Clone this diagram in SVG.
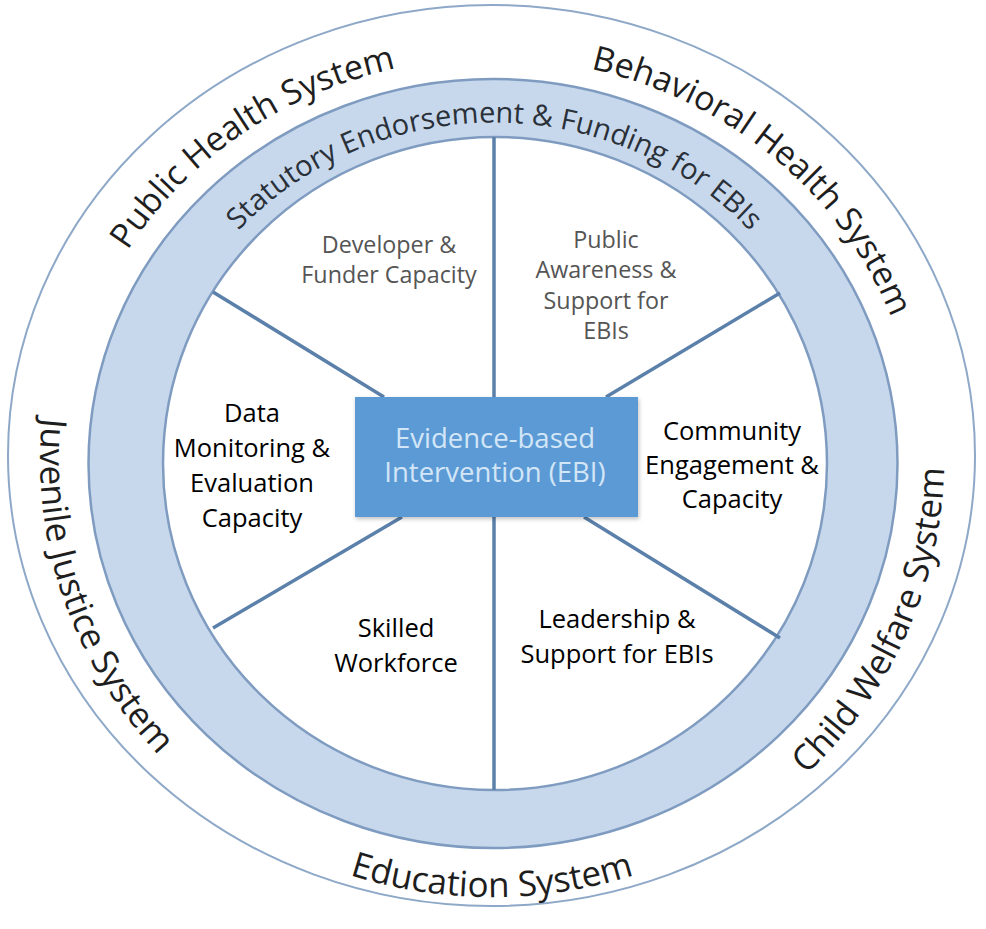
<svg xmlns="http://www.w3.org/2000/svg" xmlns:xlink="http://www.w3.org/1999/xlink" width="986" height="929" viewBox="0 0 986 929">
<style>
.ring{fill:none;stroke:#8ea8c8;stroke-width:2}
.band{fill:#c7d8ed;stroke:#7f9cc0;stroke-width:2.5}
.hole{fill:#ffffff;stroke:#7f9cc0;stroke-width:2.5}
.spoke{stroke:#5b80aa;stroke-width:3.5;fill:none}
.sys{font-family:"Open Sans","Liberation Sans",sans-serif;font-size:34px;fill:#1e1e1e}
.sysb{font-family:"Open Sans","Liberation Sans",sans-serif;font-size:35px;fill:#1e1e1e}
.stat{font-family:"Open Sans","Liberation Sans",sans-serif;font-size:29px;fill:#2a3038}
.lbl{font-family:"Open Sans","Liberation Sans",sans-serif;font-size:25.5px;fill:#000;text-anchor:middle}
.gry{font-family:"Open Sans","Liberation Sans",sans-serif;font-size:23.3px;fill:#555;text-anchor:middle}
.ebi{font-family:"Open Sans","Liberation Sans",sans-serif;font-size:27.5px;fill:#d3e6f7;text-anchor:middle}
</style>
<defs>
<path id="pTop" d="M 65,460 A 427 402 0 0 1 919,460"/>
<path id="pBot" d="M 67.3,310.5 A 452 437 0 1 0 916.7,310.5"/>
<path id="pStat" d="M 144,463.5 A 350 341 0 0 1 844,463.5"/>
<filter id="sh" x="-10%" y="-10%" width="120%" height="130%"><feDropShadow dx="1" dy="2" stdDeviation="2" flood-color="#000" flood-opacity="0.25"/></filter>
</defs>
<rect width="986" height="929" fill="#ffffff"/>
<g id="outer-ring">
<ellipse class="ring" cx="491.5" cy="455.5" rx="483.5" ry="450.5"/>
</g>
<g id="funding-band">
<ellipse class="band" cx="493" cy="463.5" rx="404.5" ry="384.5"/>
<ellipse class="hole" cx="495" cy="463.5" rx="332" ry="326.5"/>
<text class="stat"><textPath xlink:href="#pStat" href="#pStat" startOffset="257.3">Statutory</textPath></text>
<text class="stat"><textPath xlink:href="#pStat" href="#pStat" startOffset="389.5">Endorsement</textPath></text>
<text class="stat"><textPath xlink:href="#pStat" href="#pStat" startOffset="579.5">&amp;</textPath></text>
<text class="stat"><textPath xlink:href="#pStat" href="#pStat" startOffset="608">Funding</textPath></text>
<text class="stat"><textPath xlink:href="#pStat" href="#pStat" startOffset="724.9">for</textPath></text>
<text class="stat"><textPath xlink:href="#pStat" href="#pStat" startOffset="771.6">EBIs</textPath></text>
</g>
<g id="connectors">
<line class="spoke" x1="494" y1="137" x2="494" y2="397"/>
<line class="spoke" x1="494" y1="517" x2="494" y2="790"/>
<line class="spoke" x1="213" y1="292" x2="384" y2="397"/>
<line class="spoke" x1="780" y1="293" x2="606" y2="397"/>
<line class="spoke" x1="213" y1="628" x2="402" y2="517"/>
<line class="spoke" x1="584" y1="517" x2="780" y2="638"/>
</g>
<g id="public-health">
<text class="sys"><textPath xlink:href="#pTop" href="#pTop" startOffset="221.7">Public</textPath></text>
<text class="sys"><textPath xlink:href="#pTop" href="#pTop" startOffset="326.2">Health</textPath></text>
<text class="sys"><textPath xlink:href="#pTop" href="#pTop" startOffset="439.8">System</textPath></text>
</g>
<g id="behavioral-health">
<text class="sys"><textPath xlink:href="#pTop" href="#pTop" startOffset="750.7">Behavioral</textPath></text>
<text class="sys"><textPath xlink:href="#pTop" href="#pTop" startOffset="927.9">Health</textPath></text>
<text class="sys"><textPath xlink:href="#pTop" href="#pTop" startOffset="1041.5">System</textPath></text>
</g>
<g id="juvenile-justice">
<text class="sysb"><textPath xlink:href="#pBot" href="#pBot" startOffset="110.4">Juvenile</textPath></text>
<text class="sysb"><textPath xlink:href="#pBot" href="#pBot" startOffset="246.3">Justice</textPath></text>
<text class="sysb"><textPath xlink:href="#pBot" href="#pBot" startOffset="360.5">System</textPath></text>
</g>
<g id="education">
<text class="sysb"><textPath xlink:href="#pBot" href="#pBot" startOffset="50%" text-anchor="middle">Education System</textPath></text>
</g>
<g id="child-welfare">
<text class="sysb"><textPath xlink:href="#pBot" href="#pBot" startOffset="1195.9">Child</textPath></text>
<text class="sysb"><textPath xlink:href="#pBot" href="#pBot" startOffset="1287.7">Welfare</textPath></text>
<text class="sysb"><textPath xlink:href="#pBot" href="#pBot" startOffset="1423.3">System</textPath></text>
</g>
<g id="ebi">
<rect x="355" y="397" width="283" height="120" fill="#5b9ad5" filter="url(#sh)"/>
<text class="ebi" x="495" y="448">Evidence-based</text>
<text class="ebi" x="495" y="482">Intervention (EBI)</text>
</g>
<g id="developer">
<text class="gry" x="389" y="253">Developer &amp;</text>
<text class="gry" x="389" y="283">Funder Capacity</text>
</g>
<g id="public-awareness">
<text class="gry" x="606" y="247.5">Public</text>
<text class="gry" x="606" y="278">Awareness &amp;</text>
<text class="gry" x="606" y="308.5">Support for</text>
<text class="gry" x="606" y="339">EBIs</text>
</g>
<g id="data-monitoring">
<text class="lbl" x="252" y="422">Data</text>
<text class="lbl" x="252" y="457">Monitoring &amp;</text>
<text class="lbl" x="252" y="492">Evaluation</text>
<text class="lbl" x="252" y="527">Capacity</text>
</g>
<g id="community">
<text class="lbl" x="732" y="440">Community</text>
<text class="lbl" x="732" y="474">Engagement &amp;</text>
<text class="lbl" x="732" y="508">Capacity</text>
</g>
<g id="leadership">
<text class="lbl" x="617" y="628">Leadership &amp;</text>
<text class="lbl" x="617" y="663">Support for EBIs</text>
</g>
<g id="workforce">
<text class="lbl" x="396" y="637">Skilled</text>
<text class="lbl" x="396" y="672">Workforce</text>
</g>
</svg>
